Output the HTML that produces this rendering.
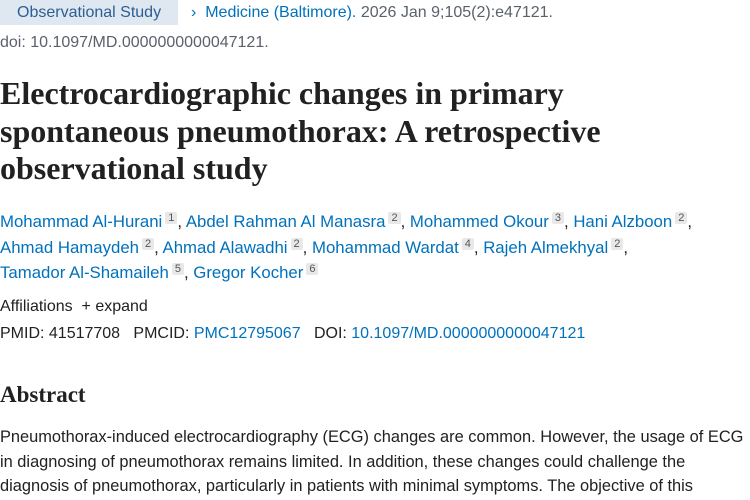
<!DOCTYPE html><html><head><meta charset="utf-8"><style>
body{margin:0;width:750px;height:500px;overflow:hidden;background:#fff;font-family:"Liberation Sans",sans-serif;color:#212121;position:relative}
.l{position:absolute;left:0;white-space:nowrap;font-size:16px;line-height:20px}
a{color:#0071bc;text-decoration:none}
.t{font-family:"Liberation Serif",serif;font-weight:bold;font-size:32px;line-height:36px;color:#212121}
.au{font-size:16.8px}
sup{font-size:11px;background:#e8e8e8;color:#555;padding:0 3px;border-radius:2px;vertical-align:6px;margin-left:3px}
.g{color:#5b616b}
.b{font-size:16.4px}
</style></head><body>
<div class="l" style="top:0;left:0;width:178px;height:25px;background:#dfe7f0"></div>
<div class="l" style="top:3px;left:17px;color:#2b5f93">Observational Study</div>
<div class="l" style="top:3px;left:191px"><a>›&nbsp; Medicine (Baltimore).</a> <span class="g">2026 Jan 9;105(2):e47121.</span></div>
<div class="l g" style="top:33px">doi: 10.1097/MD.0000000000047121.</div>
<div class="l t" style="top:75px">Electrocardiographic changes in primary</div>
<div class="l t" style="top:113px">spontaneous pneumothorax: A retrospective</div>
<div class="l t" style="top:150px">observational study</div>
<div class="l au" style="top:208px"><a>Mohammad Al-Hurani</a><sup>1</sup>, <a>Abdel Rahman Al Manasra</a><sup>2</sup>, <a>Mohammed Okour</a><sup>3</sup>, <a>Hani Alzboon</a><sup>2</sup>,</div>
<div class="l au" style="top:234px"><a>Ahmad Hamaydeh</a><sup>2</sup>, <a>Ahmad Alawadhi</a><sup>2</sup>, <a>Mohammad Wardat</a><sup>4</sup>, <a>Rajeh Almekhyal</a><sup>2</sup>,</div>
<div class="l au" style="top:259px"><a>Tamador Al-Shamaileh</a><sup>5</sup>, <a>Gregor Kocher</a><sup>6</sup></div>
<div class="l" style="top:297px">Affiliations &nbsp;+ expand</div>
<div class="l" style="top:324px">PMID: 41517708 &nbsp;&nbsp;PMCID: <a>PMC12795067</a> &nbsp;&nbsp;DOI: <a>10.1097/MD.0000000000047121</a></div>
<div class="l" style="top:381px;font-family:'Liberation Serif',serif;font-weight:bold;font-size:23px;line-height:28px">Abstract</div>
<div class="l b" style="top:427px">Pneumothorax-induced electrocardiography (ECG) changes are common. However, the usage of ECG</div>
<div class="l b" style="top:452px">in diagnosing of pneumothorax remains limited. In addition, these changes could challenge the</div>
<div class="l b" style="top:476px">diagnosis of pneumothorax, particularly in patients with minimal symptoms. The objective of this</div>
</body></html>
